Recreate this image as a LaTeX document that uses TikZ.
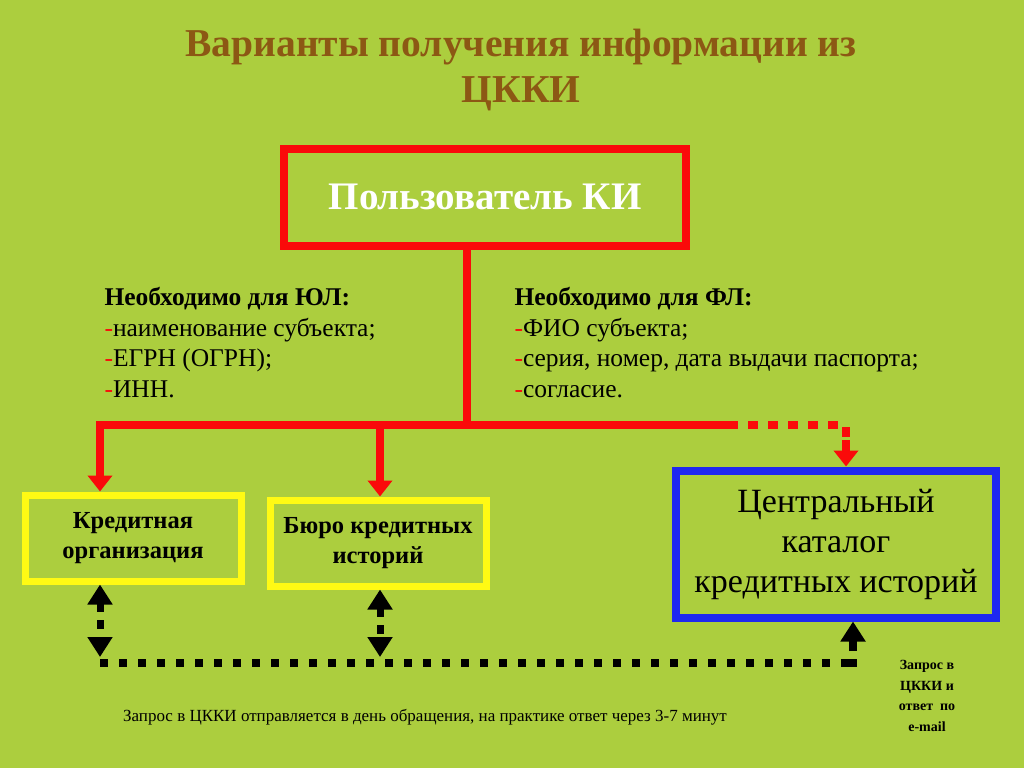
\documentclass[tikz,border=0pt]{standalone}
\usepackage{fontspec}
\setmainfont{Liberation Serif}
\usetikzlibrary{arrows.meta, positioning}
\definecolor{bgGreen}{RGB}{172,206,62}
\definecolor{titleBrown}{RGB}{140,88,20}
\definecolor{boxRed}{RGB}{250,10,10}
\definecolor{boxYellow}{RGB}{255,250,20}
\definecolor{boxBlue}{RGB}{30,40,240}
\tikzstyle{redline} = [boxRed, line width=8pt]
\tikzstyle{redarrow} = [boxRed, line width=8pt, -{Triangle[length=16pt,width=24pt]}]

\begin{document}
\begin{tikzpicture}[x=1pt, y=-1pt,
    userbox/.style={draw=boxRed, line width=8pt, minimum width=402pt, minimum height=97pt, font=\fontsize{39}{42}\selectfont\bfseries, text=white},
    orgbox/.style={draw=boxYellow, line width=7pt, minimum width=216pt, minimum height=86pt, align=center, font=\fontsize{24.5}{30}\selectfont\bfseries},
    catbox/.style={draw=boxBlue, line width=8pt, minimum width=320pt, minimum height=147pt, align=center, font=\fontsize{34}{40}\selectfont},
    info/.style={anchor=north west, align=left, font=\fontsize{25.5}{30.5}\selectfont},
    dotline/.style={black, line width=8pt, dash pattern=on 8pt off 11pt},
    reddots/.style={boxRed, line width=8pt, dash pattern=on 10pt off 10pt},
    twoway/.style={black, line width=7pt, dash pattern=on 9pt off 8pt, {Triangle[length=20pt,width=24pt]}-{Triangle[length=20pt,width=24pt]}},
]
\fill[bgGreen] (0,0) rectangle (1024,768);
\useasboundingbox (0,0) rectangle (1024,768);

% Title
\node[font=\fontsize{39.5}{46}\selectfont\bfseries, text=titleBrown, align=center] (title) at (521,70) {Варианты получения информации из\\ЦККИ};

% Boxes
\node[userbox] (user) at (485,197) {Пользователь КИ};
\node[orgbox] (bank) at (133,538) {Кредитная\\организация};
\node[orgbox] (bureau) at (378,543) {Бюро кредитных\\историй};
\node[catbox] (catalog) at (836,544) {Центральный\\каталог\\кредитных историй};

% Required data
\node[info] (legal) at (101,284) {\textbf{Необходимо для ЮЛ:}\\\textcolor{boxRed}{-}наименование субъекта;\\\textcolor{boxRed}{-}ЕГРН (ОГРН);\\\textcolor{boxRed}{-}ИНН.};
\node[info] (person) at (511,284) {\textbf{Необходимо для ФЛ:}\\\textcolor{boxRed}{-}ФИО субъекта;\\\textcolor{boxRed}{-}серия, номер, дата выдачи паспорта;\\\textcolor{boxRed}{-}согласие.};

% Red tree
\coordinate (fork) at (467,425);
\coordinate (leftEnd) at (100,425);
\coordinate (midFork) at (380,425);
\coordinate (solidEnd) at (728,425);
\coordinate (dotEnd) at (846,425);
\draw[redline] (user.south -| fork) -- (fork);
\draw[redline] ([xshift=-4pt]leftEnd) -- (solidEnd);
\draw[reddots] (solidEnd) -- (dotEnd) -- ([yshift=-15pt]dotEnd);
\draw[redarrow] (leftEnd) -- (leftEnd |- bank.north);
\draw[redarrow] (midFork) -- (midFork |- bureau.north);
\draw[redarrow] ([yshift=-15pt]dotEnd) -- (dotEnd |- catalog.north);

% Black request line
\coordinate (botLeft) at (100,663);
\coordinate (botMid) at (380,663);
\coordinate (botRight) at (853,663);
\draw[dotline] (botLeft) -- ([xshift=-4pt]botRight);
\draw[black, line width=8pt] ([xshift=-8pt]botRight) -- ([xshift=4pt]botRight);
\draw[black, line width=8pt, -{Triangle[length=20pt,width=24pt]}] ([yshift=12pt]botRight) -- (botRight |- catalog.south);
\draw[twoway] (botLeft |- bank.south) -- ([yshift=6pt]botLeft);
\draw[twoway] (botMid |- bureau.south) -- ([yshift=6pt]botMid);

% Notes
\node[font=\fontsize{17}{20}\selectfont] (note) at (425,717) {Запрос в ЦККИ отправляется в день обращения, на практике ответ через 3-7 минут};
\node[font=\fontsize{14}{20.5}\selectfont\bfseries, align=center] (email) at (927,696) {Запрос в\\ЦККИ и\\ответ~~по\\e-mail};
\end{tikzpicture}
\end{document}
